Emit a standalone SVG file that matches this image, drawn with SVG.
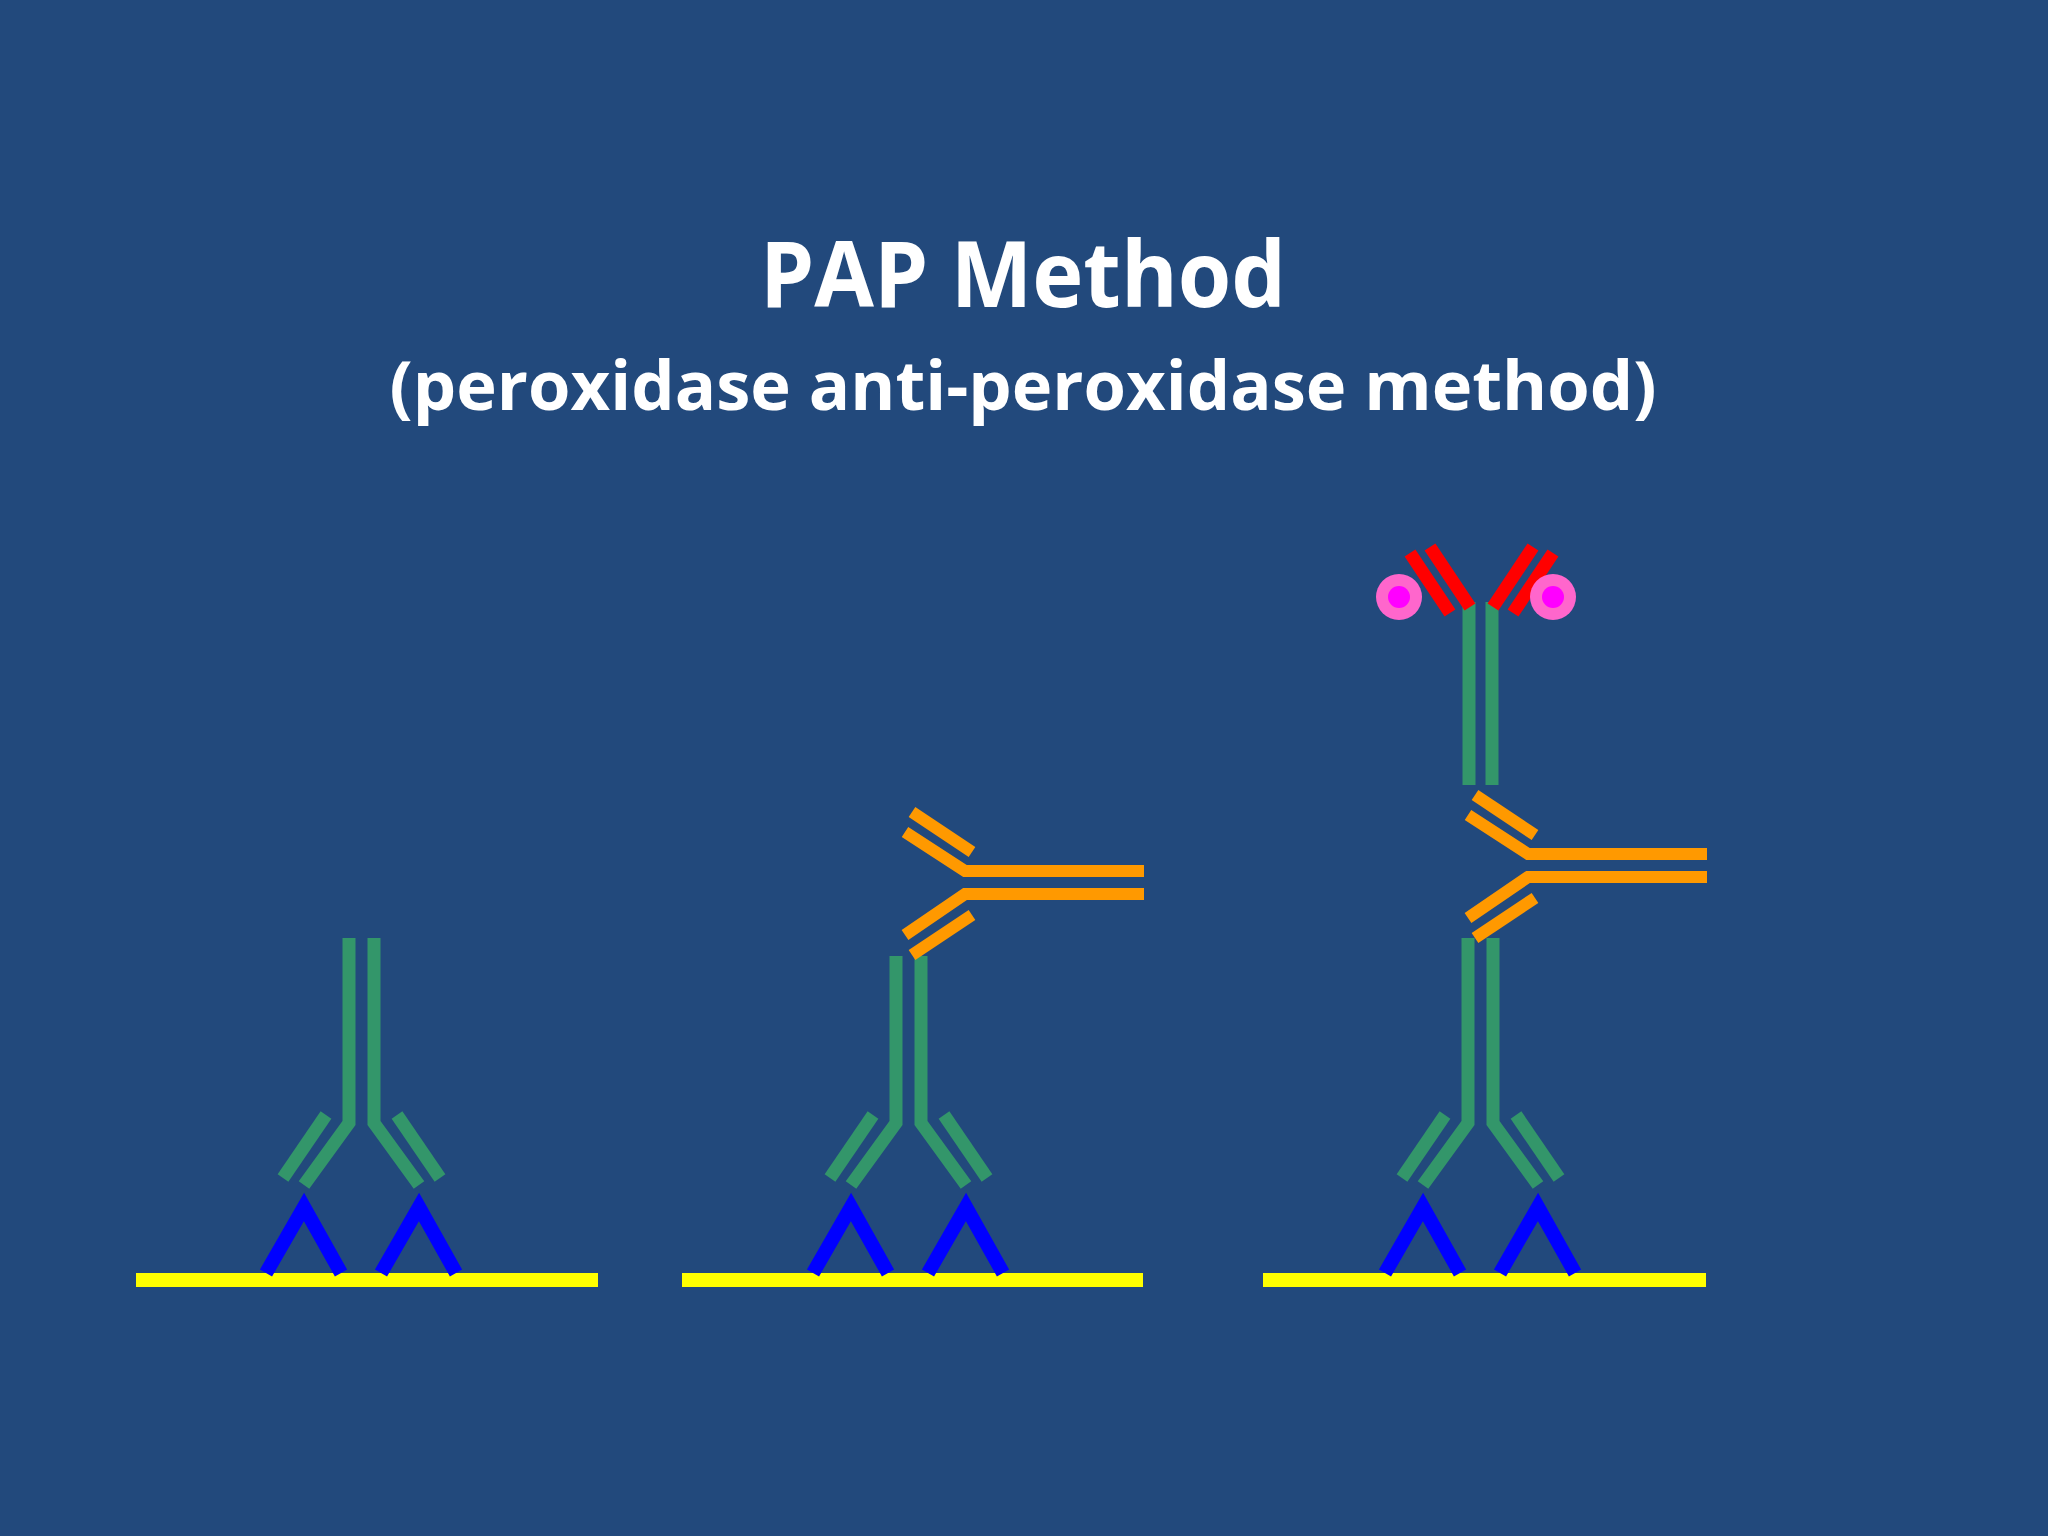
<svg xmlns="http://www.w3.org/2000/svg" width="2048" height="1536" viewBox="0 0 2048 1536">
<style>
.g{fill:none;stroke:#33966a;stroke-width:13;stroke-linejoin:miter}
.b{fill:none;stroke:#0000ff;stroke-width:14;stroke-linejoin:miter}
.y{stroke:#ffff00;stroke-width:14}
.o{fill:none;stroke:#ff9900;stroke-width:12;stroke-linejoin:miter}
.r{stroke:#ff0000;stroke-width:13}
.t{font-family:"Open Sans","Liberation Sans",sans-serif;font-weight:bold;fill:#ffffff;text-anchor:middle}
</style>
<defs>
<g id="base">
<polyline class="b" points="266,1273 304,1207 341,1273"/>
<polyline class="b" points="381,1273 419,1207 456,1273"/>
<line class="g" x1="326" y1="1115" x2="283" y2="1178"/>
<line class="g" x1="397" y1="1115" x2="440" y2="1178"/>
</g>
</defs>
<rect width="2048" height="1536" fill="#22497c"/>
<text class="t" x="1023" y="307" font-size="92" textLength="526" lengthAdjust="spacingAndGlyphs">PAP Method</text>
<text class="t" x="1023" y="410" font-size="68" textLength="1267" lengthAdjust="spacingAndGlyphs">(peroxidase anti-peroxidase method)</text>
<g id="panel1">
<line class="y" x1="136" y1="1280" x2="598" y2="1280"/>
<use href="#base"/>
<polyline class="g" points="349,938 349,1123 304,1185"/>
<polyline class="g" points="374,938 374,1123 419,1185"/>
</g>
<g id="panel2">
<line class="y" x1="682" y1="1280" x2="1143" y2="1280"/>
<use href="#base" transform="translate(547,0)"/>
<polyline class="g" points="896,956 896,1123 851,1185"/>
<polyline class="g" points="921,956 921,1123 966,1185"/>
<g transform="translate(-563,17)">
<line class="o" x1="1475" y1="795" x2="1535" y2="835"/>
<polyline class="o" points="1468,815 1528,854 1707,854"/>
<polyline class="o" points="1707,877 1528,877 1468,918"/>
<line class="o" x1="1535" y1="898" x2="1475" y2="938"/>
</g>
</g>
<g id="panel3">
<line class="y" x1="1263" y1="1280" x2="1706" y2="1280"/>
<use href="#base" transform="translate(1119,0)"/>
<polyline class="g" points="1468,938 1468,1123 1423,1185"/>
<polyline class="g" points="1493,938 1493,1123 1538,1185"/>
<line class="o" x1="1475" y1="795" x2="1535" y2="835"/>
<polyline class="o" points="1468,815 1528,854 1707,854"/>
<polyline class="o" points="1707,877 1528,877 1468,918"/>
<line class="o" x1="1535" y1="898" x2="1475" y2="938"/>
<line class="g" x1="1469" y1="602" x2="1469" y2="785"/>
<line class="g" x1="1492" y1="602" x2="1492" y2="785"/>
<line class="r" x1="1410" y1="553" x2="1450" y2="613"/>
<line class="r" x1="1430" y1="547" x2="1470" y2="607"/>
<line class="r" x1="1533" y1="547" x2="1493" y2="607"/>
<line class="r" x1="1553" y1="553" x2="1513" y2="613"/>
<circle cx="1399" cy="597" r="23" fill="#ff66cc"/>
<circle cx="1399" cy="597" r="11" fill="#ff00ff"/>
<circle cx="1553" cy="597" r="23" fill="#ff66cc"/>
<circle cx="1553" cy="597" r="11" fill="#ff00ff"/>
</g>
</svg>
